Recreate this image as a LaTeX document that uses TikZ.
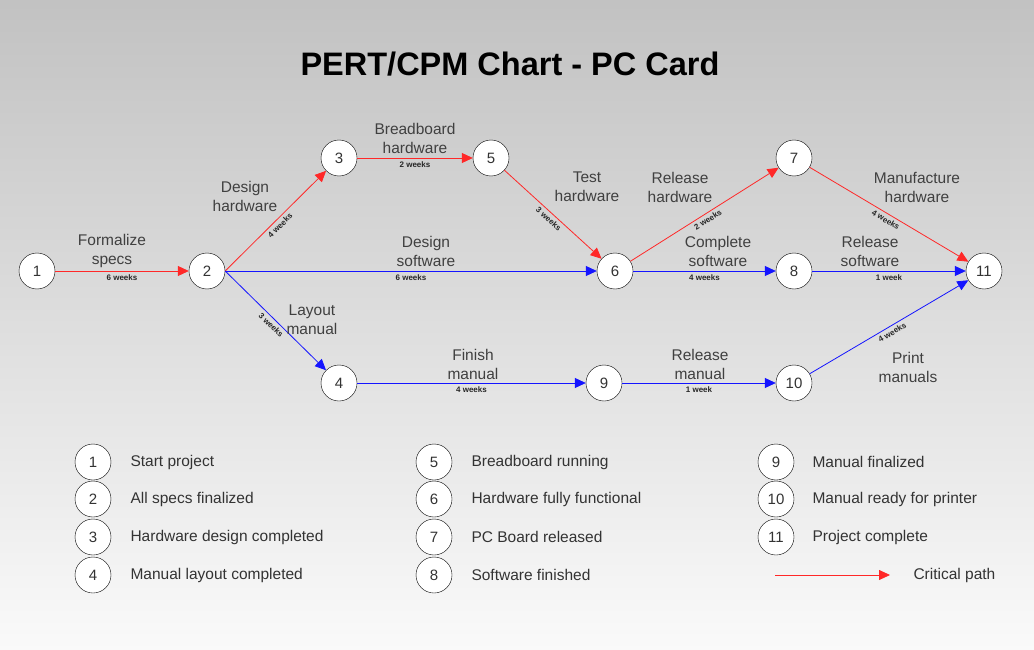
\documentclass[tikz,border=0pt]{standalone}
\usepackage{fontspec}
\setmainfont{Liberation Sans}
\usetikzlibrary{arrows.meta}
\definecolor{crit}{RGB}{255,40,40}
\definecolor{norm}{RGB}{20,20,255}
\begin{document}
\begin{tikzpicture}[x=1pt,y=-1pt,
  ev/.style={circle,draw=black,fill=white,minimum size=36pt,inner sep=0pt,font=\fontsize{15}{15}\selectfont,text=black!80},
  act/.style={-{Triangle[length=11pt,width=10pt]},line width=0.8pt},
  cr/.style={act,crit},
  nm/.style={act,norm},
  lbl/.style={align=center,font=\fontsize{15.5}{19}\selectfont,text=black!75},
  wk/.style={font=\fontsize{8}{9}\selectfont\bfseries,text=black!85,inner sep=3pt},
  leg/.style={anchor=west,font=\fontsize{15.5}{17}\selectfont,text=black!80}]
\useasboundingbox (0,0) rectangle (1034,650);
\shade[top color=black!24,bottom color=black!2] (0,0) rectangle (1034,650);
\node[font=\fontsize{32.5}{36}\selectfont\bfseries] (title) at (510,64) {PERT/CPM Chart - PC Card};
% events
\node[ev] (n1) at (37,271) {1};
\node[ev] (n2) at (207,271) {2};
\node[ev] (n3) at (339,158) {3};
\node[ev] (n5) at (491,158) {5};
\node[ev] (n6) at (615,271) {6};
\node[ev] (n7) at (794,158) {7};
\node[ev] (n8) at (794,271) {8};
\node[ev] (n11) at (984,271) {11};
\node[ev] (n4) at (339,383) {4};
\node[ev] (n9) at (604,383) {9};
\node[ev] (n10) at (794,383) {10};
% activities
\draw[cr] (n1) -- node[wk,below]{6 weeks} (n2);
\draw[cr] (n2.east) -- node[wk,below,sloped]{4 weeks} (n3);
\draw[cr] (n3) -- node[wk,below]{2 weeks} (n5);
\draw[cr] (n5) -- node[wk,below,sloped]{3 weeks} (n6);
\draw[cr] (n6) -- node[wk,below,sloped]{2 weeks} (n7);
\draw[cr] (n7) -- node[wk,below,sloped]{4 weeks} (n11);
\draw[nm] (n2) -- node[wk,below]{6 weeks} (n6);
\draw[nm] (n2.east) -- node[wk,below,sloped]{3 weeks} (n4);
\draw[nm] (n6) -- node[wk,below]{4 weeks} (n8);
\draw[nm] (n8) -- node[wk,below]{1 week} (n11);
\draw[nm] (n4) -- node[wk,below]{4 weeks} (n9);
\draw[nm] (n9) -- node[wk,below]{1 week} (n10);
\draw[nm] (n10) -- node[wk,below,sloped]{4 weeks} (n11);
% activity names
\node[lbl] (l1) at (112,251) {Formalize\\specs};
\node[lbl] (l2) at (245,196) {Design\\hardware};
\node[lbl] (l3) at (415,138) {Breadboard\\hardware};
\node[lbl] (l4) at (587,187) {Test\\hardware};
\node[lbl] (l5) at (426,251) {Design\\software};
\node[lbl] (l6) at (312,320) {Layout\\manual};
\node[lbl] (l7) at (680,187) {Release\\hardware};
\node[lbl] (l8) at (718,251) {Complete\\software};
\node[lbl] (l9) at (870,251) {Release\\software};
\node[lbl] (l10) at (917,187) {Manufacture\\hardware};
\node[lbl] (l11) at (473,364) {Finish\\manual};
\node[lbl] (l12) at (700,364) {Release\\manual};
\node[lbl] (l13) at (908,367) {Print\\manuals};
% legend
\node[ev] (k1) at (93,462) {1};  \node[leg] (t1) at (127,462) {Start project};
\node[ev] (k2) at (93,499) {2};  \node[leg] (t2) at (127,499) {All specs finalized};
\node[ev] (k3) at (93,537) {3};  \node[leg] (t3) at (127,537) {Hardware design completed};
\node[ev] (k4) at (93,575) {4};  \node[leg] (t4) at (127,575) {Manual layout completed};
\node[ev] (k5) at (434,462) {5}; \node[leg] (t5) at (468,462) {Breadboard running};
\node[ev] (k6) at (434,499) {6}; \node[leg] (t6) at (468,499) {Hardware fully functional};
\node[ev] (k7) at (434,537) {7}; \node[leg] (t7) at (468,537) {PC Board released};
\node[ev] (k8) at (434,575) {8}; \node[leg] (t8) at (468,575) {Software finished};
\node[ev] (k9) at (776,462) {9}; \node[leg] (t9) at (809,462) {Manual finalized};
\node[ev] (k10) at (776,499) {10}; \node[leg] (t10) at (809,499) {Manual ready for printer};
\node[ev] (k11) at (776,537) {11}; \node[leg] (t11) at (809,537) {Project complete};
\coordinate (c0) at (775,575);
\coordinate (c1) at (890,575);
\node[leg] (tc) at (910,575) {Critical path};
\draw[cr] (c0) -- (c1);
\end{tikzpicture}
\end{document}
